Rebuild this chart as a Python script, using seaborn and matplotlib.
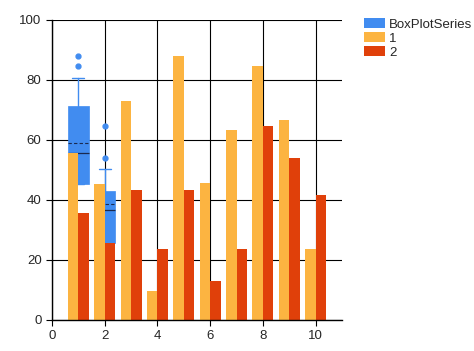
import matplotlib
matplotlib.use("Agg")
import matplotlib.pyplot as plt
from matplotlib.patches import Patch
import pandas as pd
import seaborn as sns

# data
x_pos = [1, 2, 3, 4, 5, 6, 7, 8, 9, 10]
series_1 = [55.7, 45.3, 73.0, 9.8, 88.0, 45.6, 63.3, 84.7, 66.7, 23.6]
series_2 = [35.7, 25.6, 43.3, 23.7, 43.3, 13.1, 23.6, 64.8, 54.1, 41.6]

# box plot series (one box per source series)
box_pos = [1, 2]
box_q1 = [45.3, 25.6]
box_q3 = [71.3, 43.1]
box_med = [59.1, 38.7]
box_mean = [55.6, 36.7]
box_whishi = [80.6, 50.3]
box_fliers = [[84.7, 88.0], [53.9, 64.7]]

colors = {'BoxPlotSeries': '#418cf0', '1': '#fcb441', '2': '#e0400a'}

sns.set_style('ticks')
plt.rcParams['font.family'] = ['Liberation Sans', 'DejaVu Sans']
plt.rcParams['font.size'] = 9.5

fig = plt.figure(figsize=(4.74, 3.51), dpi=100)
ax = fig.add_axes([52 / 474, 31 / 351, 290 / 474, 300 / 351])

bars = pd.DataFrame({
    'x': x_pos * 2,
    'value': series_1 + series_2,
    'series': ['1'] * len(x_pos) + ['2'] * len(x_pos),
})
sns.barplot(data=bars, x='x', y='value', hue='series', hue_order=['1', '2'],
            palette=colors, native_scale=True, width=0.8, saturation=1,
            errorbar=None, linewidth=0, legend=False, zorder=2, ax=ax)

stats = []
for i in range(len(box_pos)):
    stats.append({
        'q1': box_q1[i], 'q3': box_q3[i], 'med': box_med[i], 'mean': box_mean[i],
        'whislo': box_q1[i], 'whishi': box_whishi[i], 'fliers': box_fliers[i],
    })
blue = colors['BoxPlotSeries']
# the box series sits under the bars but over the grid
ax.bxp(stats, positions=box_pos, widths=0.8, capwidths=0.45, patch_artist=True,
       showmeans=True, meanline=True, manage_ticks=False, zorder=1,
       boxprops=dict(facecolor=blue, edgecolor=blue, linewidth=0.5),
       whiskerprops=dict(color=blue, linewidth=1),
       capprops=dict(color=blue, linewidth=1),
       medianprops=dict(color='#1a2a50', linewidth=0.8, linestyle=(0, (3, 2))),
       meanprops=dict(color='#1a2a50', linewidth=0.9, linestyle='-'),
       flierprops=dict(marker='o', markersize=3.5, markerfacecolor=blue,
                       markeredgecolor=blue))

ax.set_xlim(0, 11)
ax.set_ylim(0, 100)
ax.set_xticks([0, 2, 4, 6, 8, 10])
ax.set_yticks([0, 20, 40, 60, 80, 100])
ax.set_xlabel('')
ax.set_ylabel('')
ax.grid(True, color='black', linewidth=0.8, zorder=0)
ax.set_axisbelow(True)
for side in ['top', 'right']:
    ax.spines[side].set_visible(False)
for side in ['left', 'bottom']:
    ax.spines[side].set_color('black')
    ax.spines[side].set_linewidth(1)
    ax.spines[side].set_zorder(3)
ax.tick_params(direction='out', length=4, width=0.8, color='black', labelsize=9.5)

handles = [Patch(facecolor=colors[k], edgecolor='none') for k in ['BoxPlotSeries', '1', '2']]
fig.legend(handles, ['BoxPlotSeries', '1', '2'], loc='upper left',
           bbox_to_anchor=(359 / 474, 1 - 13 / 351), frameon=False,
           handlelength=1.6, handleheight=0.75, handletextpad=0.3,
           labelspacing=0.12, fontsize=9.5, borderaxespad=0)

fig.savefig('out.png', dpi=100)
